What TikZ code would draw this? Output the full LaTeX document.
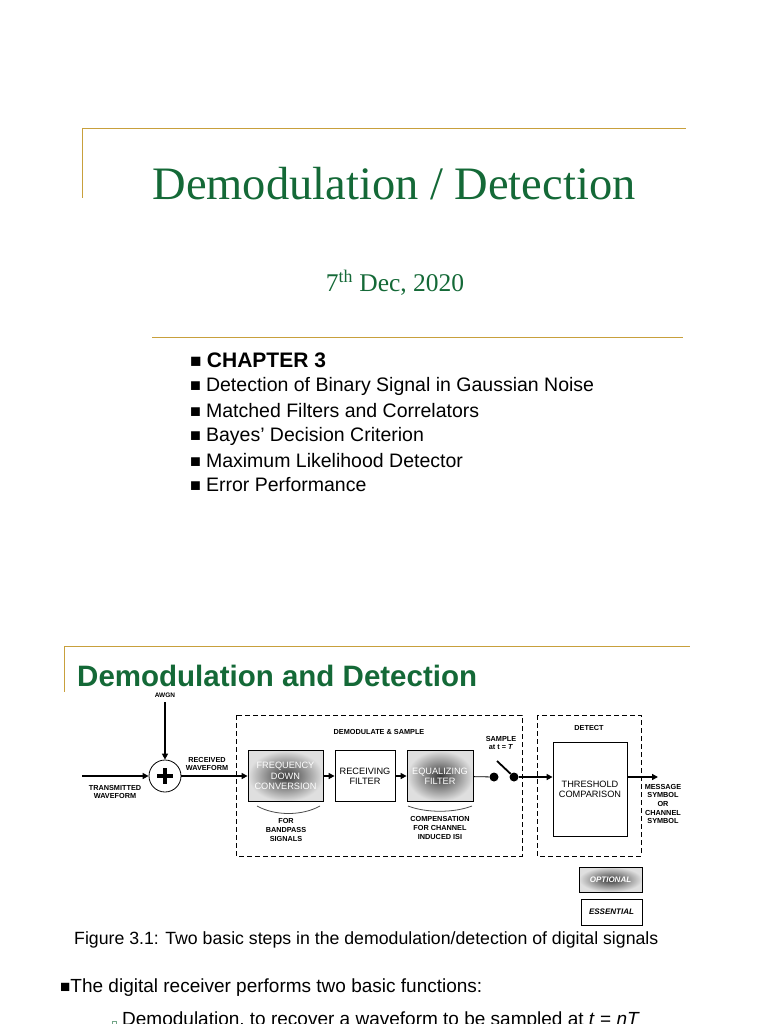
\documentclass[tikz,border=0pt]{standalone}
\usepackage{fontspec}
\setmainfont{Liberation Serif}
\setsansfont{Liberation Sans}
\newfontfamily\arialf{Liberation Sans}
\usetikzlibrary{arrows.meta}
\definecolor{tgreen}{RGB}{20,105,55}
\definecolor{gold}{RGB}{200,160,60}
\begin{document}
\begin{tikzpicture}[x=1pt,y=-1pt,
  lab/.style={font=\arialf\bfseries\fontsize{7.3}{8.6}\selectfont,align=center,inner sep=0pt},
  blk/.style={draw,thick,font=\arialf\fontsize{9.2}{10.2}\selectfont,align=center,inner sep=0pt},
  opt/.style={blk,shading=radial,inner color=gray!45!black,outer color=gray!25,text=white},
  dbox/.style={draw,thick,dash pattern=on 5pt off 3pt},
  arr/.style={line width=2pt,-{Triangle[length=6pt,width=6pt]}},
  bul/.style={font=\arialf\fontsize{19.5}{21}\selectfont,anchor=west,inner sep=0pt}]
\useasboundingbox (0,0) rectangle (768,1024);
\clip (0,0) rectangle (768,1024);
% slide 1
\draw[gold,thin] (82,128) -- (686,128);
\draw[gold,thin] (82,128) -- (82,198);
\node[text=tgreen,font=\fontsize{46.5}{50}\selectfont] (t1) at (394,184) {Demodulation / Detection};
\node[text=tgreen,font=\fontsize{25.5}{28}\selectfont] (d1) at (395,283) {7\textsuperscript{th} Dec, 2020};
\draw[gold,thin] (152,337) -- (683,337);
\node[bul,font=\arialf\bfseries\fontsize{21}{23}\selectfont] (b0) at (190,360) {\fontsize{19}{19}\selectfont■\ \fontsize{21}{23}\selectfont CHAPTER 3};
\foreach \y/\t in {386/Detection of Binary Signal in Gaussian Noise,411/Matched Filters and Correlators,436/Bayes’ Decision Criterion,461/Maximum Likelihood Detector,485/Error Performance}
  \node[bul] at (190,\y) {\fontsize{18}{18}\selectfont■\ \fontsize{19.5}{21}\selectfont\t};
% slide 2
\draw[gold,thin] (64,646) -- (690,646);
\draw[gold,thin] (64,646) -- (64,692);
\node[text=tgreen,font=\arialf\bfseries\fontsize{29.5}{31}\selectfont,anchor=west,inner sep=0pt] (t2) at (77,676) {Demodulation and Detection};
% diagram
\node[lab,font=\arialf\bfseries\fontsize{6.5}{7}\selectfont] (awgn) at (165,695) {AWGN};
\node[draw,thick,circle,minimum size=32pt,inner sep=0pt] (sum) at (165,776) {};
\draw[line width=3.5pt] (sum.center)+(-8,0) -- +(8,0) (sum.center)+(0,-8) -- +(0,8);
\coordinate (aw) at (165,702);
\coordinate (tx) at (82,776);
\draw[arr] (aw) -- (sum);
\draw[arr] (tx) -- (sum);
\node[lab] (txl) at (115,792) {TRANSMITTED\\WAVEFORM};
\node[lab] (rxl) at (207,764) {RECEIVED\\WAVEFORM};
\draw[dbox] (236,715) rectangle (522,856);
\draw[dbox] (537,715) rectangle (641,856);
\node[lab] (dsl) at (379,732) {DEMODULATE \& SAMPLE};
\node[lab] (dtl) at (589,728) {DETECT};
\node[opt,minimum width=75pt,minimum height=51pt] (fdc) at (285.5,776) {FREQUENCY\\DOWN\\CONVERSION};
\node[blk,minimum width=60pt,minimum height=51pt] (rf) at (365,776) {RECEIVING\\FILTER};
\node[opt,minimum width=66pt,minimum height=51pt] (eq) at (440,776) {EQUALIZING\\FILTER};
\draw[arr] (sum) -- (fdc);
\draw[arr,line width=1.5pt] (fdc) -- (rf);
\draw[arr,line width=1.5pt] (rf) -- (eq);
\node[circle,fill,inner sep=0pt,minimum size=9pt] (s1) at (494,777) {};
\node[circle,fill,inner sep=0pt,minimum size=9pt] (s2) at (514,777) {};
\coordinate (sw) at (497,761);
\draw[thick] (eq) -- (s1);
\draw[line width=1.8pt] (sw) -- (s2);
\node[lab] (sml) at (501,743) {SAMPLE\\at t = \textit{T}};
\node[blk,minimum width=74pt,minimum height=94pt] (th) at (590,789) {THRESHOLD\\COMPARISON};
\draw[arr,line width=1.5pt] (s2) -- (th.west|-s2);
\coordinate (out) at (658,777);
\draw[arr] (th.east|-s2) -- (out);
\node[lab] (msg) at (663,804) {MESSAGE\\SYMBOL\\OR\\CHANNEL\\SYMBOL};
\coordinate (a1) at (257,806); \coordinate (a2) at (320,806);
\draw[gray!60!black,thick] (a1) .. controls (275,816) and (302,816) .. (a2);
\node[lab] (fbl) at (286,830) {FOR\\BANDPASS\\SIGNALS};
\coordinate (b1) at (408,806); \coordinate (b2) at (472,806);
\draw[gray!60!black,thick] (b1) .. controls (426,813) and (454,813) .. (b2);
\node[lab] (cpl) at (440,828) {COMPENSATION\\FOR CHANNEL\\INDUCED ISI};
\node[opt,minimum width=63pt,minimum height=25pt,font=\arialf\bfseries\itshape\fontsize{8}{8}\selectfont] (op) at (610.5,879.5) {OPTIONAL};
\node[blk,minimum width=61pt,minimum height=26pt,font=\arialf\bfseries\itshape\fontsize{8}{8}\selectfont] (es) at (611.5,912) {ESSENTIAL};
\node[font=\arialf\fontsize{17.7}{19}\selectfont,anchor=west,inner sep=0pt] (cap) at (74,940) {Figure 3.1: Two basic steps in the demodulation/detection of digital signals};
\node[bul,font=\arialf\fontsize{19}{20}\selectfont] (p1) at (60,988) {\fontsize{17}{17}\selectfont■\fontsize{19}{20}\selectfont The digital receiver performs two basic functions:};
\node[draw=tgreen!60,minimum size=4pt,inner sep=0pt] (sq) at (114,1023) {};
\node[bul,font=\arialf\fontsize{19}{20}\selectfont] (p2) at (122,1021) {Demodulation, to recover a waveform to be sampled at \textit{t} = \textit{nT}};
\end{tikzpicture}
\end{document}
